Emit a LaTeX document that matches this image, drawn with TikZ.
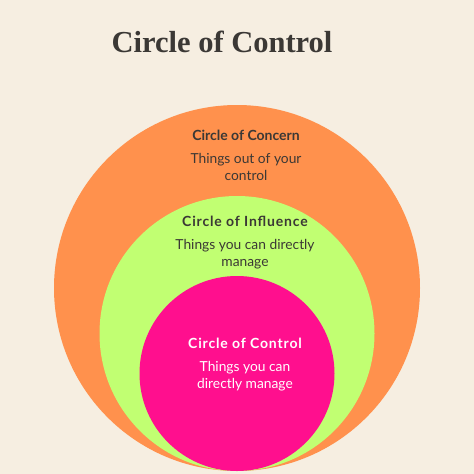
\documentclass[tikz,border=0pt]{standalone}
\usepackage{fontspec}
\setmainfont{Lato}
\newfontfamily\titlefont{Liberation Serif}
\definecolor{bg}{HTML}{F6EEE1}
\definecolor{concern}{HTML}{FF914D}
\definecolor{influence}{HTML}{C1FF72}
\definecolor{control}{HTML}{FF0F8E}
\definecolor{ink}{HTML}{3B3835}
\tikzset{
  ring/.style={circle, inner sep=0pt, draw=none},
  head/.style={font=\fontsize{14}{16}\selectfont\bfseries, text=ink, anchor=center},
  body/.style={font=\fontsize{13.8}{17.5}\selectfont, text=ink, align=center, anchor=north},
}
\begin{document}
\begin{tikzpicture}[x=1pt,y=-1pt]
\fill[bg] (0,0) rectangle (474,474);
\useasboundingbox (0,0) rectangle (474,474);
\node[font=\titlefont\fontsize{30.5}{34}\selectfont\bfseries, text=ink] (title) at (222,42) {Circle of Control};
\node[ring, fill=concern, minimum size=366pt] (outer) at (237,288) {};
\node[ring, fill=influence, minimum size=275pt] (middle) at (237,333.5) {};
\node[ring, fill=control, minimum size=195pt] (inner) at (237,373.5) {};
\node[head] (h1) at (246,135) {Circle of Concern};
\node[body] (b1) at (246,149.5) {Things out of your\\control};
\node[head, font=\fontsize{14}{16}\selectfont\bfseries\addfontfeature{LetterSpace=6}] (h2) at (245,221) {Circle of Influence};
\node[body] (b2) at (245,235.5) {Things you can directly\\manage};
\node[head, text=white, font=\fontsize{14}{16}\selectfont\bfseries\addfontfeature{LetterSpace=6}] (h3) at (245,343) {Circle of Control};
\node[body, text=white] (b3) at (245,357.5) {Things you can\\directly manage};
\end{tikzpicture}
\end{document}
